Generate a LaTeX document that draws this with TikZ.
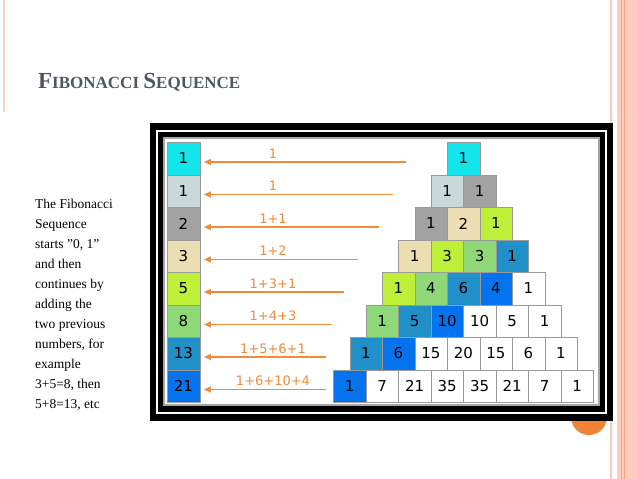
\documentclass[tikz,border=0pt]{standalone}
\usepackage{fontspec}
\setmainfont{Liberation Serif}
\newfontfamily\cellfont{DejaVu Sans}
\usetikzlibrary{arrows.meta}
\definecolor{c0}{HTML}{12E6EA}
\definecolor{c1}{HTML}{C9D9DA}
\definecolor{c2}{HTML}{A2A2A2}
\definecolor{c3}{HTML}{EDDDB3}
\definecolor{c4}{HTML}{BEF03A}
\definecolor{c5}{HTML}{8FD878}
\definecolor{c6}{HTML}{2290C8}
\definecolor{c7}{HTML}{0573EE}
\definecolor{c8}{HTML}{FFFFFF}
\definecolor{orng}{HTML}{F08A3C}
\definecolor{pinkb}{HTML}{FBCDBA}
\definecolor{pinkl}{HTML}{F2A584}
\definecolor{titlec}{HTML}{4E5766}
\tikzset{
  cell/.style={draw=gray!80, minimum width=32.5pt, minimum height=32.5pt, inner sep=0pt, anchor=north west, font=\cellfont\fontsize{15}{15}\selectfont},
  lab/.style={font=\cellfont\fontsize{13}{13}\selectfont, text=orng, inner sep=0pt},
  arr/.style={draw=orng, line width=1.2pt, -{Triangle[length=7pt,width=6pt]}},
}
\begin{document}
\begin{tikzpicture}[x=1pt,y=-1pt]
\useasboundingbox (0,0) rectangle (638,479);
\fill[white] (0,0) rectangle (638,479);
% decorations
\fill[pinkb] (617,0) rectangle (638,479);
\draw[pinkl, line width=0.8pt] (621,0) -- (621,479);
\draw[pinkl, line width=0.8pt] (624,0) -- (624,479);
\draw[pinkb, line width=2pt] (611,0) -- (611,479);
\draw[pinkb, line width=2pt] (4,0) -- (4,112);
\fill[orng!95!red] (589,417) circle (18);
% title
\node[anchor=base west, inner sep=0pt, text=titlec, font=\bfseries] (title) at (38,88)
  {\fontsize{23}{23}\selectfont F\fontsize{17}{17}\selectfont IBONACCI \fontsize{23}{23}\selectfont S\fontsize{17}{17}\selectfont EQUENCE};
% left text
\node[anchor=north west, inner sep=0pt, align=left, font=\fontsize{13.5}{20}\selectfont] (desc) at (35,199)
  {The Fibonacci\\Sequence\\starts "0, 1"\\and then\\continues by\\adding the\\two previous\\numbers, for\\example\\3+5=8, then\\5+8=13, etc};
% frame
\fill[black] (150,123) rectangle (613,421);
\draw[white, line width=1.6pt] (157,131) rectangle (606,413);
\fill[white] (163,137) rectangle (600,406);
\draw[gray!70, line width=1.5pt] (164,138) rectangle (599,405);
% left column
\foreach \v [count=\k from 0] in {1,1,2,3,5,8,13,21}{
  \node[cell, fill=c\k] (L\k) at (167,{142+32.5*\k}) {\v};
}
% pyramid
\foreach \row [count=\k from 0] in {
  {1},{1,1},{1,2,1},{1,3,3,1},{1,4,6,4,1},{1,5,10,10,5,1},{1,6,15,20,15,6,1},{1,7,21,35,35,21,7,1}}{
  \foreach \v [count=\j from 0] in \row {
    \pgfmathtruncatemacro{\ci}{min(\k+\j,8)}
    \node[cell, fill=c\ci] (P\k-\j) at ({447-16.25*\k+32.5*\j},{142+32.5*\k}) {\v};
  }
}
% arrows and labels
\foreach \t/\ex [count=\k from 0] in {1/406,1/393,1+1/379,1+2/358,1+3+1/344,1+4+3/332,1+5+6+1/326,1+6+10+4/326}{
  \coordinate (s\k) at (\ex,{162+32.5*\k});
  \draw[arr] (s\k) -- ([xshift=4pt]L\k.east |- s\k);
  \node[lab, anchor=base] (t\k) at (273,{158+32.5*\k}) {\t};
}
\end{tikzpicture}
\end{document}
